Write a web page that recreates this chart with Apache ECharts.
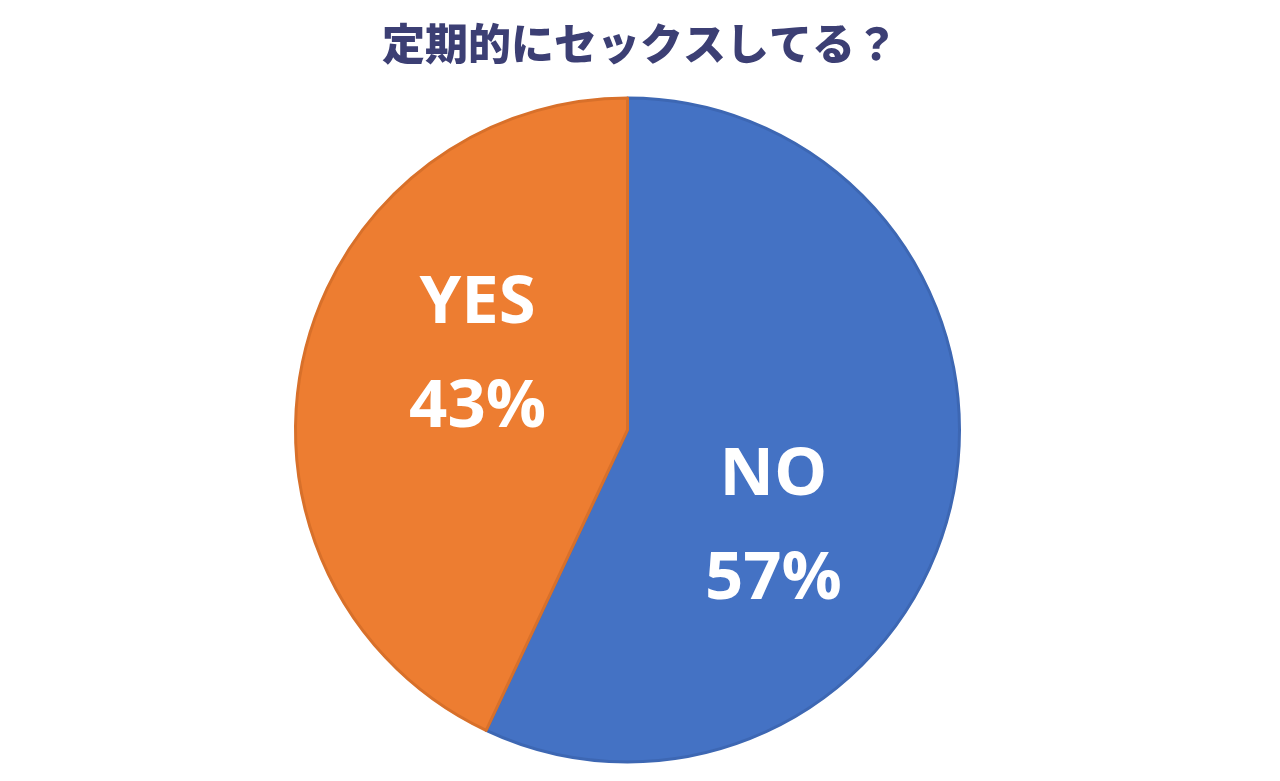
<!DOCTYPE html>
<html>
<head>
<meta charset="utf-8">
<script src="https://cdn.jsdelivr.net/npm/echarts@6/dist/echarts.min.js"></script>
<style>
html,body{margin:0;padding:0;background:#fff;}
#chart{width:1280px;height:781px;}
</style>
</head>
<body>
<div id="chart"></div>
<script>
const titleText = '定期的にセックスしてる？';
const categories = ['NO', 'YES'];
const values = [57, 43];
const colors = ['#4472C4', '#ED7D31'];
const borderColors = ['#3D67B3', '#D8702A'];
const labelOffsets = [[-19, 61], [15, -37]];

const chart = echarts.init(document.getElementById('chart'));
chart.setOption({
  animation: false,
  title: {
    text: titleText,
    left: 'center',
    top: 17,
    textStyle: {
      fontFamily: 'Noto Sans CJK JP',
      fontWeight: 900,
      fontSize: 43,
      color: '#3C3F74'
    }
  },
  series: [{
    type: 'pie',
    center: [627.5, 430],
    radius: 332,
    startAngle: 90,
    clockwise: true,
    data: categories.map((c, i) => ({
      name: c,
      value: values[i],
      itemStyle: { color: colors[i], borderColor: borderColors[i], borderWidth: 3 },
      label: { offset: labelOffsets[i] }
    })),
    labelLine: { show: false },
    label: {
      show: true,
      position: 'inside',
      formatter: p => '{a|' + p.name + '}\n{a|' + p.value + '%}',
      rich: {
        a: {
          fontFamily: 'Open Sans',
          fontWeight: 'bold',
          fontSize: 67,
          lineHeight: 104,
          color: '#ffffff'
        }
      }
    },
    emphasis: { disabled: true }
  }]
});
</script>
</body>
</html>
